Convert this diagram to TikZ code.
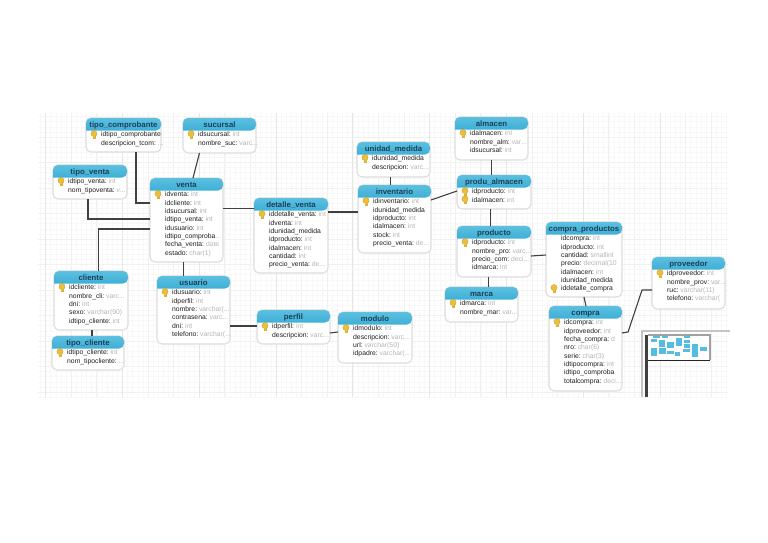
\documentclass[tikz,border=0pt]{standalone}
\usepackage{fontspec}
\setmainfont{Liberation Sans}
\definecolor{namec}{HTML}{1E1E1E}
\definecolor{typec}{HTML}{B4B4B4}
\definecolor{titlec}{HTML}{1D3F58}
\definecolor{hdrtop}{HTML}{5CC0E0}
\definecolor{hdrbot}{HTML}{3FAFD6}
\definecolor{bordc}{HTML}{DDDDDD}
\definecolor{gridminor}{HTML}{F8F8F8}
\definecolor{gridmajor}{HTML}{F1F1F1}
\definecolor{gridstrong}{HTML}{E6E6E6}
\definecolor{connc}{HTML}{404040}
\definecolor{blockc}{HTML}{55BEE0}
\definecolor{keyc}{HTML}{EBBE3C}
\definecolor{keyd}{HTML}{C49A22}
\newcommand\dd{{\color{typec}.\kern0pt.\kern0pt.}}
\tikzset{
  x=1pt,y=-1pt,
  tblbody/.style={draw=bordc,line width=1.1pt,fill=white,rounded corners=5pt,inner sep=0pt,outer sep=0pt},
  tbltitle/.style={inner sep=0pt,font=\fontsize{7.8}{8}\selectfont\bfseries,text=titlec},
  rowtext/.style={inner sep=0pt,anchor=base west,font=\fontsize{6.8}{7}\selectfont,text=namec},
  conn/.style={draw=connc,line width=1.1pt},
}
\newcommand\tbl[7]{%
  \node[tblbody,minimum width=#4pt-#2pt,minimum height=#5pt-#3pt] (#1) at ({(#2+#4)/2},{(#3+#5)/2}) {};
  \shade[top color=hdrtop,bottom color=hdrbot,rounded corners=5pt] (#2,#3+12.5) -- (#2,#3) -- (#4,#3) -- (#4,#3+12.5) [sharp corners] -- cycle;
  \node[tbltitle,anchor=base] (#1-t) at ({(#2+#4)/2},#3+9.3) {#6};
  \foreach \nm/\ty/\kk [count=\i] in {#7}{
    \node[rowtext] (#1-r\i) at (#2+15,{#3+18.8+8.34*(\i-1)}) {\nm\ {\color{typec}\ty}};
    \ifnum\kk=1
      \begin{scope}[shift={(#2+8,{#3+16.4+8.34*(\i-1)})}]
        \fill[keyc!70!keyd] (-1.5,1) rectangle (1.5,4.2);
        \fill[keyc,draw=keyd,line width=.3pt] (0,-0.8) circle (3.1);
        \fill[keyc] (-1.3,0) rectangle (1.3,2.4);
      \end{scope}
    \fi
  }%
}
\begin{document}
\begin{tikzpicture}
\useasboundingbox (0,0) rectangle (768,543);
\fill[white] (0,0) rectangle (768,543);
% grid
\begin{scope}
\clip (38,113) rectangle (728,397);
\foreach \k in {0,...,140}{
  \draw[gridminor,line width=.5pt] ({660-5.12*(\k-14)},113) -- ({660-5.12*(\k-14)},397);
}
\foreach \k in {0,...,60}{
  \draw[gridminor,line width=.5pt] (38,{137-25.5*1+5.1*\k}) -- (728,{137-25.5*1+5.1*\k});
}
\foreach \k in {-2,...,24}{
  \draw[gridmajor,line width=.7pt] ({660-25.6*\k},113) -- ({660-25.6*\k},397);
}
\foreach \k in {-1,...,11}{
  \draw[gridmajor,line width=.7pt] (38,{137+25.5*\k}) -- (728,{137+25.5*\k});
}
\foreach \k in {0,...,8}{
  \draw[gridstrong,line width=.8pt] ({660-76.8*\k},113) -- ({660-76.8*\k},397);
}
\end{scope}
% tables
\tbl{tc}{86}{118}{161}{152}{tipo\_comprobante}{idtipo\_comprobante//1,descripcion\_tcom:/\dd/0}
\tbl{suc}{183}{118}{256}{153}{sucursal}{idsucursal:/int/1,nombre\_suc:/varc\dd/0}
\tbl{tv}{53}{165}{127}{199}{tipo\_venta}{idtipo\_venta:/int/1,nom\_tipoventa:/v\dd/0}
\tbl{venta}{150}{178}{223}{262}{venta}{idventa:/int/1,idcliente:/int/0,idsucursal:/int/0,idtipo\_venta:/int/0,idusuario:/int/0,idtipo\_comproba\dd//0,fecha\_venta:/date/0,estado:/char(1)/0}
\tbl{cli}{54}{271}{128}{330}{cliente}{idcliente:/int/1,nombre\_cli:/varc\dd/0,dni:/int/0,sexo:/varchar(90)/0,idtipo\_cliente:/int/0}
\tbl{tcl}{52}{336}{124}{370}{tipo\_cliente}{idtipo\_cliente:/int/1,nom\_tipocliente:/\dd/0}
\tbl{us}{157}{276}{230}{344}{usuario}{idusuario:/int/1,idperfil:/int/0,nombre:/varchar(\dd/0,contrasena:/varc\dd/0,dni:/int/0,telefono:/varchar(\dd/0}
\tbl{dv}{254}{198}{328}{273}{detalle\_venta}{iddetalle\_venta:/int/1,idventa:/int/0,idunidad\_medida//0,idproducto:/int/0,idalmacen:/int/0,cantidad:/int/0,precio\_venta:/de\dd/0}
\tbl{um}{357}{142}{430}{177}{unidad\_medida}{idunidad\_medida//1,descripcion:/varc\dd/0}
\tbl{inv}{358}{185}{431}{253}{inventario}{idinventario:/int/1,idunidad\_medida//0,idproducto:/int/0,idalmacen:/int/0,stock:/int/0,precio\_venta:/de\dd/0}
\tbl{al}{455}{117}{528}{160}{almacen}{idalmacen:/int/1,nombre\_alm:/var\dd/0,idsucursal:/int/0}
\tbl{pa}{457}{175}{531}{209}{produ\_almacen}{idproducto:/int/1,idalmacen:/int/1}
\tbl{pr}{457}{226}{531}{277}{producto}{idproducto:/int/1,nombre\_pro:/varc\dd/0,precio\_com:/deci\dd/0,idmarca:/int/0}
\tbl{ma}{445}{287}{518}{322}{marca}{idmarca:/int/1,nombre\_mar:/var\dd/0}
\tbl{cp}{546}{222}{622}{297}{compra\_productos}{idcompra:/int/0,idproducto:/int/0,cantidad:/smallint/0,precio:/decimal(10/0,idalmacen:/int/0,idunidad\_medida//0,iddetalle\_compra//1}
\tbl{co}{549}{306}{622}{391}{compra}{idcompra:/int/1,idproveedor:/int/0,fecha\_compra:/d/0,nro:/char(6)/0,serie:/char(3)/0,idtipocompra:/int/0,idtipo\_comproba//0,totalcompra:/deci\dd/0}
\tbl{prov}{652}{257}{725}{309}{proveedor}{idproveedor:/int/1,nombre\_prov:/var\dd/0,ruc:/varchar(11)/0,telefono:/varchar(/0}
\tbl{pf}{257}{310}{330}{344}{perfil}{idperfil:/int/1,descripcion:/varc\dd/0}
\tbl{mo}{338}{312}{412}{363}{modulo}{idmodulo:/int/1,descripcion:/varc\dd/0,url:/varchar(50)/0,idpadre:/varchar(\dd/0}
% connectors
\draw[conn] ([xshift=50pt]tc.south west) |- ([yshift=-25pt]venta.north west);
\draw[conn] ([xshift=16.5pt]suc.south west) -- ([xshift=43pt]venta.north west);
\draw[conn] ([xshift=35pt]tv.south west) |- ([yshift=-41pt]venta.north west);
\draw[conn] ([xshift=44.5pt]cli.north west) |- ([yshift=-51pt]venta.north west);
\draw[conn] ([yshift=-30.5pt]venta.north east) -- ([yshift=-10.5pt]dv.north west);
\draw[conn] ([xshift=33.5pt]venta.south west) -- ([xshift=26.5pt]us.north west);
\draw[conn] ([xshift=38pt]cli.south west) -- ([xshift=40pt]tcl.north west);
\draw[conn] ([yshift=-50pt]us.north east) -- ([yshift=-16pt]pf.north west);
\draw[conn] ([yshift=-23pt]pf.north east) -- ([yshift=-20pt]mo.north west);
\draw[conn] ([yshift=-14pt]dv.north east) -- ([yshift=-27pt]inv.north west);
\draw[conn] ([xshift=33.5pt]um.south west) -- ([xshift=32.5pt]inv.north west);
\draw[conn] ([yshift=-15pt]inv.north east) -- ([yshift=-16pt]pa.north west);
\draw[conn] ([xshift=36.5pt]al.south west) -- ([xshift=34.5pt]pa.north west);
\draw[conn] ([xshift=33.5pt]pa.south west) -- ([xshift=33.5pt]pr.north west);
\draw[conn] ([xshift=31.5pt]pr.south west) -- ([xshift=43.5pt]ma.north west);
\draw[conn] ([yshift=-30pt]pr.north east) -- ([yshift=-33pt]cp.north west);
\draw[conn] ([xshift=38pt]cp.south west) -- ([xshift=37pt]co.north west);
\draw[conn] ([yshift=-27pt]co.north east) -- ++(6,-1) -- ([xshift=-10pt,yshift=-33pt]prov.north west) -- ([yshift=-33pt]prov.north west);
% minimap
\draw[gridstrong!85!black,line width=1.6pt] (642,397) -- (642,331) -- (730,331);
\fill[white] (648,335) rectangle (710,360);
\begin{scope}[shift={(635,325)},x=.3333pt,y=-.3333pt]
\foreach \a/\b/\c/\d in {55/30/75/38,80/30/98/38,148/30/165/40,122/38/142/63,48/42/66/51,72/46/90/65,97/50/117/70,148/44/165/53,148/58/165/69,145/73/165/81,170/58/190/78,170/78/190/97,196/65/216/78,47/70/67/94,72/70/92/87,97/79/117/87,119/80/136/92}{
  \fill[blockc] (\a,\b) rectangle (\c,\d);
}
\end{scope}
\draw[gridstrong!70!black,line width=1.2pt] (648,335) -- (710,335) -- (710,360);
\draw[black!85,line width=1pt] (648,360) -- (710,360);
\fill[black!75] (645,335) rectangle (648,397);
\end{tikzpicture}
\end{document}
